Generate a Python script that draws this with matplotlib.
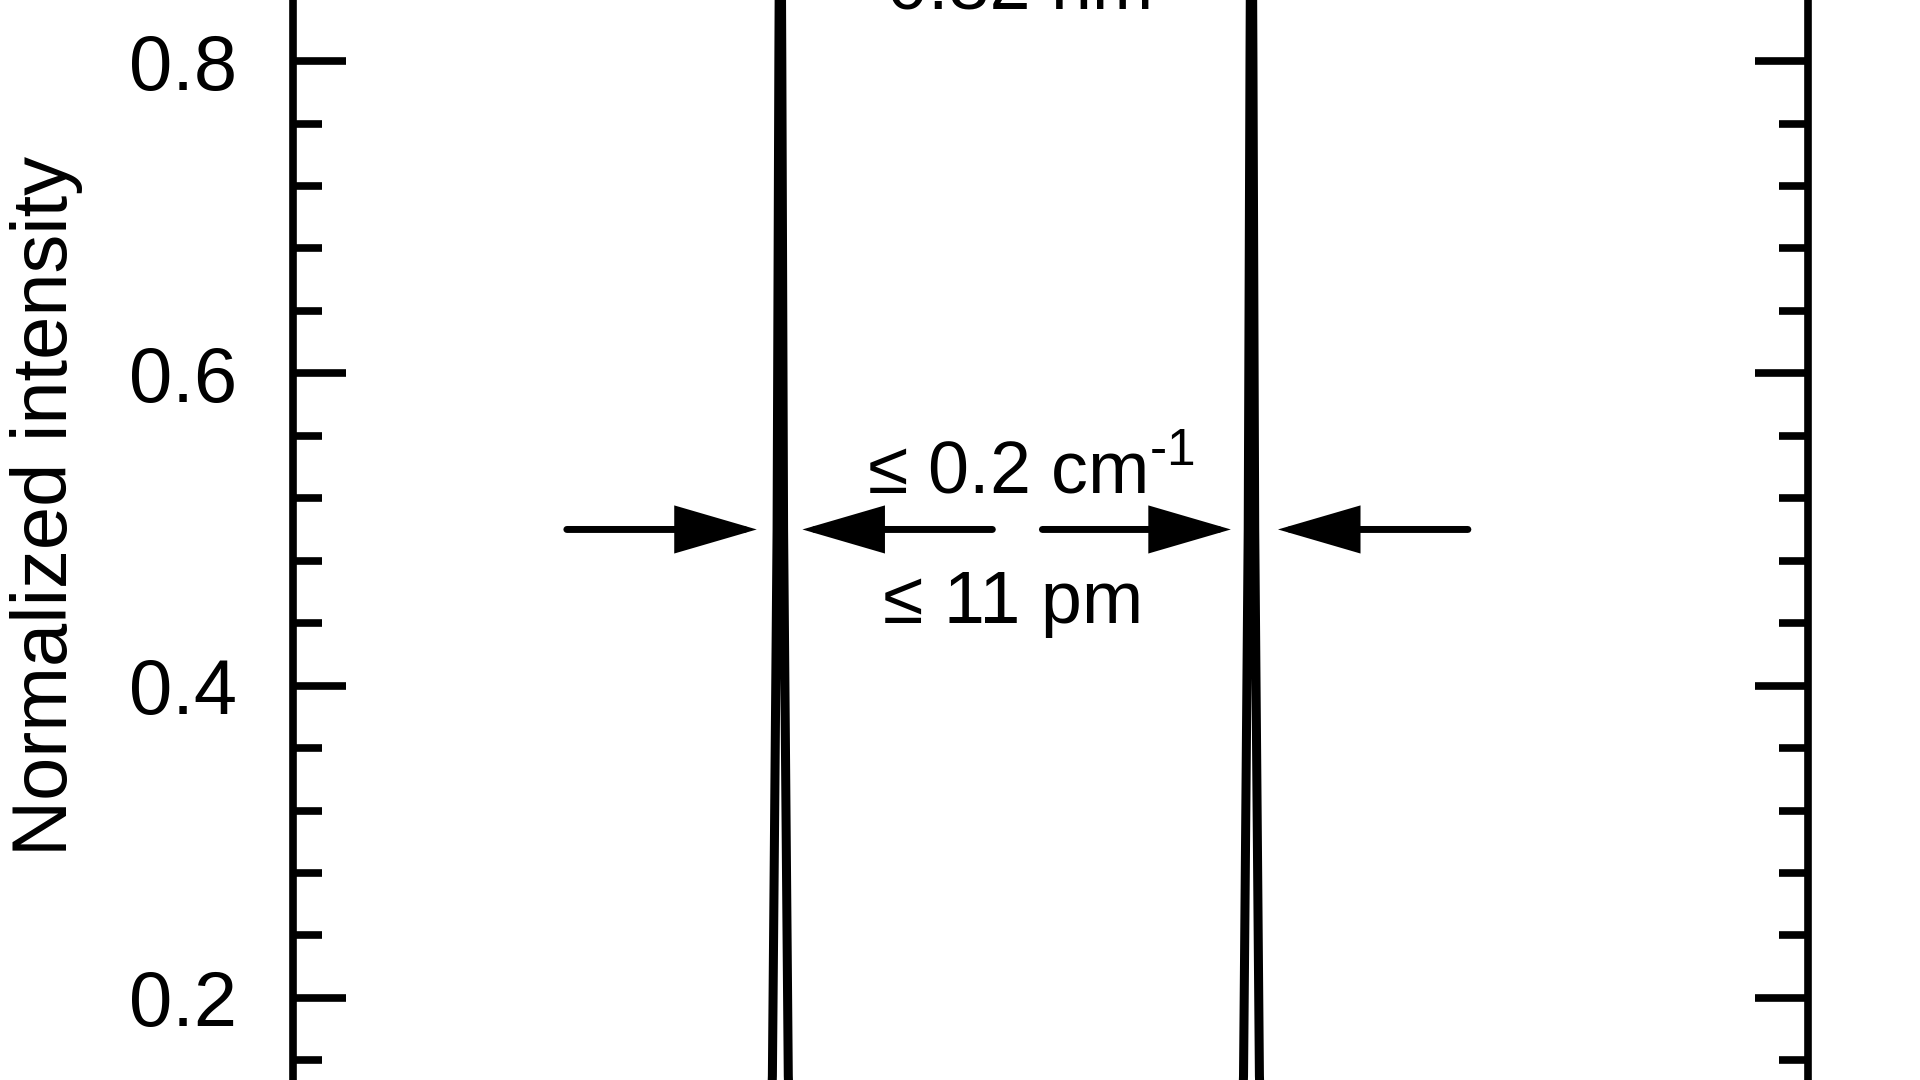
import numpy as np
import matplotlib
matplotlib.use("Agg")
import matplotlib.pyplot as plt

plt.rcParams['font.family'] = ['Liberation Sans', 'DejaVu Sans']
plt.rcParams['mathtext.fontset'] = 'custom'
plt.rcParams['mathtext.rm'] = 'Liberation Sans'

# two lines, 0.32 nm apart (wavelength in nm)
peak_centers = [742.00, 742.32]
profile_offset = [-0.060, -0.030, -0.015, -0.009, -0.0054, -0.0042, -0.0022, -0.0010, 0.0,
                  0.0010, 0.0022, 0.0042, 0.0054, 0.009, 0.015, 0.030, 0.060]
profile_intensity = [0.002, 0.005, 0.02, 0.05, 0.15, 0.28, 0.50, 0.80, 1.00,
                     0.80, 0.50, 0.28, 0.15, 0.05, 0.02, 0.005, 0.002]

# FWHM arrows at half maximum: (tail, tip)
arrows = [(741.855, 741.984), (742.144, 742.015), (742.178, 742.306), (742.467, 742.338)]
half_max = 0.5

x_range = (741.669, 742.698)
y_range = (0.1474, 0.8391)
major_ticks = [0.2, 0.4, 0.6, 0.8]
minor_step = 0.04

wl = [x_range[0]]
inten = [0.0]
for c in peak_centers:
    wl += [c + o for o in profile_offset]
    inten += profile_intensity
wl.append(x_range[1])
inten.append(0.0)

fig = plt.figure(figsize=(19.2, 10.8), dpi=100)
ax = fig.add_axes([293 / 1920, 0.0, (1808 - 293) / 1920, 1.0])

ax.plot(wl, inten, color='black', linewidth=6.5, solid_joinstyle='miter')

ax.set_xlim(*x_range)
ax.set_ylim(*y_range)
ax.set_yticks(major_ticks)
ax.set_yticks(np.arange(0.16, 0.84, minor_step), minor=True)
ax.set_yticklabels(['%.1f' % v for v in major_ticks])
ax.set_xticks([])

ax.spines['top'].set_visible(False)
ax.spines['bottom'].set_visible(False)
ax.spines['left'].set_linewidth(5.5)
ax.spines['right'].set_linewidth(5.5)

ax.tick_params(axis='y', which='both', direction='in', left=True, right=True, width=5.5)
ax.tick_params(axis='y', which='major', length=38, labelsize=56, pad=40)
ax.tick_params(axis='y', which='minor', length=21)

ax.set_ylabel('Normalized intensity', fontsize=56, va='center')
ax.yaxis.set_label_coords(-0.1624, 0.532)

for tail, tip in arrows:
    ax.annotate('', xy=(tip, half_max), xytext=(tail, half_max),
                arrowprops=dict(arrowstyle='-|>,head_length=2.4,head_width=0.7',
                                mutation_scale=20, lw=5, color='black',
                                shrinkA=0, shrinkB=0, joinstyle='miter'))

ax.text(742.170, 0.5227, '≤ 0.2 cm$^{\\text{-1}}$', fontsize=53, ha='center', va='baseline')
ax.text(742.158, 0.440, '≤ 11 pm', fontsize=53, ha='center', va='baseline')
ax.text(742.163, 0.8327, '0.32 nm', fontsize=53, ha='center', va='baseline')

fig.savefig('out.png', dpi=100, facecolor='white')
